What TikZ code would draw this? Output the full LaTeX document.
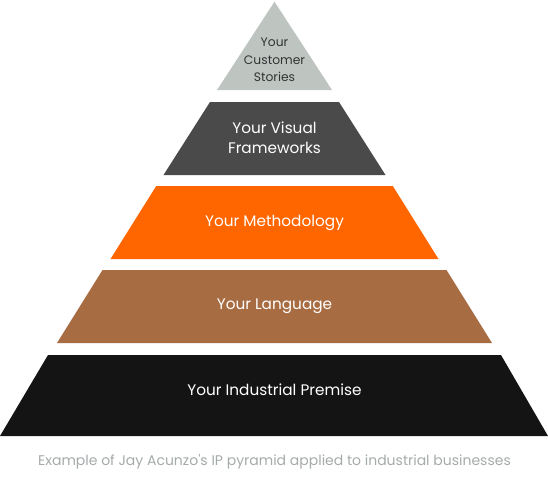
\documentclass[tikz,border=0pt]{standalone}
\usepackage{fontspec}
\setmainfont{Poppins}
\usepackage{tikz}

\definecolor{storygray}{RGB}{190,197,193}
\definecolor{visualgray}{RGB}{74,74,74}
\definecolor{methodorange}{RGB}{255,102,0}
\definecolor{languagebrown}{RGB}{168,108,67}
\definecolor{premiseblack}{RGB}{20,20,20}
\definecolor{captiongray}{RGB}{165,170,170}

\begin{document}
\begin{tikzpicture}[x=1pt, y=-1pt,
	label/.style={text=white, align=center, font=\fontsize{15.3}{20}\selectfont},
	toplabel/.style={text=black!80, align=center, font=\fontsize{12.3}{17.5}\selectfont}]
	\useasboundingbox (0, 0) rectangle (548, 499);

	\fill[storygray] (274.5, 1.7) -- (332, 90) -- (217, 90) -- cycle;
	\fill[visualgray] (210, 102) -- (339, 102) -- (385.5, 175) -- (163.5, 175) -- cycle;
	\fill[methodorange] (156.2, 186) -- (392.8, 186) -- (438.5, 259) -- (110.5, 259) -- cycle;
	\fill[languagebrown] (102.5, 270) -- (446.5, 270) -- (492, 343) -- (57, 343) -- cycle;
	\fill[premiseblack] (48, 355) -- (501, 355) -- (548, 436) -- (0, 436) -- cycle;

	\node[toplabel] (stories) at (274.5, 60) {Your\\Customer\\Stories};
	\node[label] (visual) at (274.5, 137.5) {Your Visual\\Frameworks};
	\node[label] (method) at (274.5, 222.5) {Your Methodology};
	\node[label] (language) at (274.5, 306.5) {Your Language};
	\node[label] (premise) at (274.5, 390) {Your Industrial Premise};

	\node[text=captiongray, font=\fontsize{14}{16}\selectfont] (caption) at (274.5, 461.5) {Example of Jay Acunzo\textquotesingle s IP pyramid applied to industrial businesses};

\end{tikzpicture}
\end{document}
